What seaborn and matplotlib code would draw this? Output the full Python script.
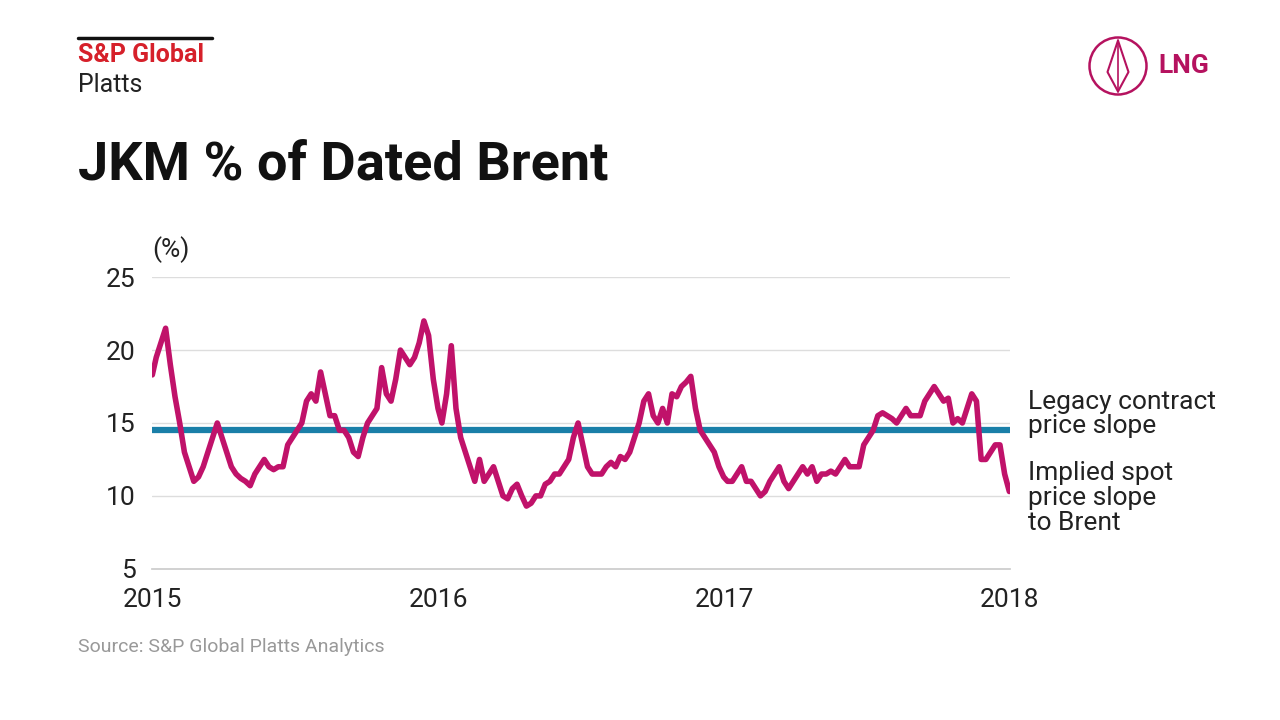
import matplotlib
matplotlib.use("Agg")
import matplotlib.pyplot as plt
import seaborn as sns
import pandas as pd
import numpy as np
from matplotlib.patches import Circle

values = [18.3,19.5,20.5,21.5,19,16.8,15,13,12,11,11.3,12,13,14,15,14,13,12,11.5,11.2,11,10.7,11.5,12,12.5,12,11.8,12,12,13.5,14,14.5,15,16.5,17,16.5,18.5,17,15.5,15.5,14.5,14.5,14,13,12.7,14,15,15.5,16,18.8,17,16.5,18,20,19.5,19,19.5,20.5,22,21,18,16,15,17,20.3,16,14,13,12,11,12.5,11,11.5,12,11,10,9.8,10.5,10.8,10,9.3,9.5,10,10,10.8,11,11.5,11.5,12,12.5,14,15,13.5,12,11.5,11.5,11.5,12,12.3,12,12.7,12.5,13,14,15,16.5,17,15.5,15,16,15,17,16.8,17.5,17.8,18.2,16,14.5,14,13.5,13,12,11.3,11,11,11.5,12,11,11,10.5,10,10.3,11,11.5,12,11,10.5,11,11.5,12,11.5,12,11,11.5,11.5,11.7,11.5,12,12.5,12,12,12,13.5,14,14.5,15.5,15.7,15.5,15.3,15,15.5,16,15.5,15.5,15.5,16.5,17,17.5,17,16.5,16.7,15,15.3,15,16,17,16.5,12.5,12.5,13,13.5,13.5,11.5,10.3]
legacy_slope = 14.5
years = [2015, 2016, 2017, 2018]
yticks = [5, 10, 15, 20, 25]

dates = pd.date_range("2015-01-01", "2017-12-31", periods=len(values))
xnum = 2015 + (dates - pd.Timestamp("2015-01-01")).days / 365.25
df = pd.DataFrame({"x": xnum, "v": values})

sns.set_theme(style="white")
plt.rcParams['font.family'] = ['Roboto', 'DejaVu Sans']
fig = plt.figure(figsize=(12.8, 7.2), dpi=100)
ax = fig.add_axes([0.119, 0.21, 0.67, 0.405])
for t in yticks[1:]:
    ax.axhline(t, color="#dddddd", lw=1, zorder=0)
ax.axhline(legacy_slope, color="#1a7fa8", lw=4.5, zorder=2)
sns.lineplot(data=df, x="x", y="v", ax=ax, color="#c0126a", lw=4, zorder=3)
ax.set_xlim(2015, 2018)
ax.set_ylim(5, 25)
ax.set_xticks(years)
ax.set_xticklabels([str(y) for y in years])
ax.set_yticks(yticks)
ax.set_xlabel(""); ax.set_ylabel("")
for s in ["top", "right", "left"]:
    ax.spines[s].set_visible(False)
ax.spines["bottom"].set_color("#cccccc")
ax.tick_params(length=0, labelsize=19, colors="#222222")
ax.tick_params(axis="y", pad=12)
ax.tick_params(axis="x", pad=14)

fig.text(152/1280, 1-250/720, "(%)", fontsize=19, color="#222222", va="center")
fig.text(1028/1280, 1-414/720, "Legacy contract\nprice slope", fontsize=19, color="#222222", va="center", linespacing=1.05)
fig.text(1028/1280, 1-498/720, "Implied spot\nprice slope\nto Brent", fontsize=19, color="#222222", va="center", linespacing=1.05)
fig.text(78/1280, 1-165/720, "JKM % of Dated Brent", fontsize=39, fontweight="bold", color="#111111", va="center")
fig.text(78/1280, 1-647/720, "Source: S&P Global Platts Analytics", fontsize=14, color="#999999", va="center")
fig.text(78/1280, 1-55/720, "S&P Global", fontsize=18, fontweight="bold", color="#d6202a", va="center")
fig.text(78/1280, 1-85/720, "Platts", fontsize=18, color="#222222", va="center")
fig.add_artist(plt.Line2D([78/1280, 212/1280], [1-38/720, 1-38/720], color="#111111", lw=2.5))

# LNG logo
lax = fig.add_axes([1088/1280, 1-96/720, 60/1280, 60/720])
lax.set_xlim(-1, 1); lax.set_ylim(-1, 1); lax.set_aspect("equal"); lax.axis("off")
lax.add_patch(Circle((0, 0), 0.95, fill=False, ec="#b5125f", lw=1.8))
lax.plot([0, -0.35, 0, 0.35, 0], [0.85, -0.2, -0.85, -0.2, 0.85], color="#b5125f", lw=1.5)
lax.plot([0, 0], [0.85, -0.85], color="#b5125f", lw=1.2)
fig.text(1158/1280, 1-66/720, "LNG", fontsize=19, fontweight="bold", color="#b5125f", va="center")

fig.savefig("out.png", dpi=100)
